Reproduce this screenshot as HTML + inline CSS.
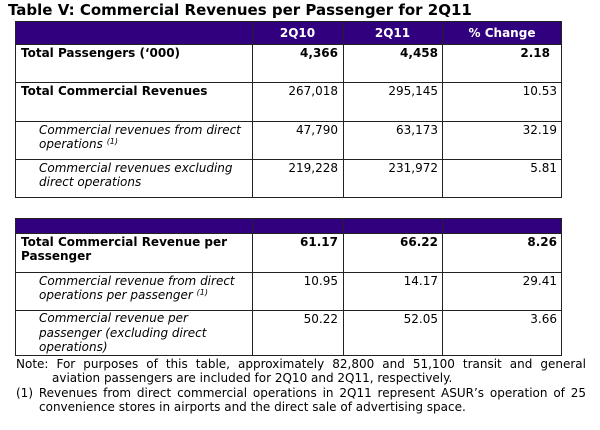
<!DOCTYPE html>
<html><head><meta charset="utf-8">
<style>
*{margin:0;padding:0;box-sizing:border-box}
body{width:600px;height:430px;background:#fff;position:relative;overflow:hidden;font-family:"DejaVu Sans","Liberation Sans",sans-serif;color:#000;font-size:12px}
.a{position:absolute}
.hl{position:absolute;height:1px;background:#222}
.vl{position:absolute;width:1px;background:#222}
.hd{position:absolute;background:#31007f}
.t{position:absolute;line-height:14px;white-space:nowrap}
.b{font-weight:bold}
.i{font-style:italic}
.r{text-align:right}
.h{position:absolute;color:#fff;font-weight:bold;text-align:center;line-height:14px}
sup{font-size:8px;vertical-align:top;position:relative;top:-2px}
.n{position:absolute;left:16px;width:570px;line-height:14.5px;white-space:nowrap}
.j{text-align:justify;text-align-last:justify;white-space:normal}
</style></head><body>
<div class="a b" style="left:8px;top:0px;font-size:15px;line-height:20px;white-space:nowrap">Table V: Commercial Revenues per Passenger for 2Q11</div>

<!-- Table 1 -->
<div class="hd" style="left:15px;top:21px;width:547px;height:23px"></div>
<div class="h" style="left:252px;top:26px;width:91px">2Q10</div>
<div class="h" style="left:343px;top:26px;width:99px">2Q11</div>
<div class="h" style="left:442px;top:26px;width:120px">% Change</div>

<div class="hl" style="left:15px;top:21px;width:547px"></div>
<div class="hl" style="left:15px;top:44px;width:547px"></div>
<div class="hl" style="left:15px;top:82px;width:547px"></div>
<div class="hl" style="left:15px;top:121px;width:547px"></div>
<div class="hl" style="left:15px;top:159px;width:547px"></div>
<div class="hl" style="left:15px;top:197px;width:547px"></div>
<div class="vl" style="left:15px;top:21px;height:177px"></div>
<div class="vl" style="left:252px;top:21px;height:177px"></div>
<div class="vl" style="left:343px;top:21px;height:177px"></div>
<div class="vl" style="left:442px;top:21px;height:177px"></div>
<div class="vl" style="left:561px;top:21px;height:177px"></div>

<div class="t b" style="left:21px;top:46px">Total Passengers (‘000)</div>
<div class="t b r" style="left:252px;top:46px;width:86px">4,366</div>
<div class="t b r" style="left:343px;top:46px;width:95px">4,458</div>
<div class="t b r" style="left:442px;top:46px;width:108px">2.18</div>

<div class="t b" style="left:21px;top:84px">Total Commercial Revenues</div>
<div class="t r" style="left:252px;top:84px;width:86px">267,018</div>
<div class="t r" style="left:343px;top:84px;width:95px">295,145</div>
<div class="t r" style="left:442px;top:84px;width:115px">10.53</div>

<div class="t i" style="left:39px;top:123px">Commercial revenues from direct<br>operations <sup>(1)</sup></div>
<div class="t r" style="left:252px;top:123px;width:86px">47,790</div>
<div class="t r" style="left:343px;top:123px;width:95px">63,173</div>
<div class="t r" style="left:442px;top:123px;width:115px">32.19</div>

<div class="t i" style="left:39px;top:161px">Commercial revenues excluding<br>direct operations</div>
<div class="t r" style="left:252px;top:161px;width:86px">219,228</div>
<div class="t r" style="left:343px;top:161px;width:95px">231,972</div>
<div class="t r" style="left:442px;top:161px;width:115px">5.81</div>

<!-- Table 2 -->
<div class="hd" style="left:15px;top:218px;width:547px;height:15px"></div>
<div class="hl" style="left:15px;top:218px;width:547px"></div>
<div class="hl" style="left:15px;top:233px;width:547px"></div>
<div class="hl" style="left:15px;top:272px;width:547px"></div>
<div class="hl" style="left:15px;top:310px;width:547px"></div>
<div class="hl" style="left:15px;top:355px;width:547px"></div>
<div class="vl" style="left:15px;top:218px;height:138px"></div>
<div class="vl" style="left:252px;top:218px;height:138px"></div>
<div class="vl" style="left:343px;top:218px;height:138px"></div>
<div class="vl" style="left:442px;top:218px;height:138px"></div>
<div class="vl" style="left:561px;top:218px;height:138px"></div>

<div class="t b" style="left:21px;top:235px">Total Commercial Revenue per<br>Passenger</div>
<div class="t b r" style="left:252px;top:235px;width:86px">61.17</div>
<div class="t b r" style="left:343px;top:235px;width:95px">66.22</div>
<div class="t b r" style="left:442px;top:235px;width:115px">8.26</div>

<div class="t i" style="left:39px;top:274px">Commercial revenue from direct<br>operations per passenger <sup>(1)</sup></div>
<div class="t r" style="left:252px;top:274px;width:86px">10.95</div>
<div class="t r" style="left:343px;top:274px;width:95px">14.17</div>
<div class="t r" style="left:442px;top:274px;width:115px">29.41</div>

<div class="t i" style="left:39px;top:311px;line-height:14.5px">Commercial revenue per<br>passenger (excluding direct<br>operations)</div>
<div class="t r" style="left:252px;top:312px;width:86px">50.22</div>
<div class="t r" style="left:343px;top:312px;width:95px">52.05</div>
<div class="t r" style="left:442px;top:312px;width:115px">3.66</div>

<!-- Notes -->
<div class="n j" style="top:357px">Note: For purposes of this table, approximately 82,800 and 51,100 transit and general</div>
<div class="n" style="top:371px;left:52px;width:auto">aviation passengers are included for 2Q10 and 2Q11, respectively.</div>
<div class="n j" style="top:386px">(1) Revenues from direct commercial operations in 2Q11 represent ASUR’s operation of 25</div>
<div class="n" style="top:400px;left:39px;width:auto">convenience stores in airports and the direct sale of advertising space.</div>
</body></html>
